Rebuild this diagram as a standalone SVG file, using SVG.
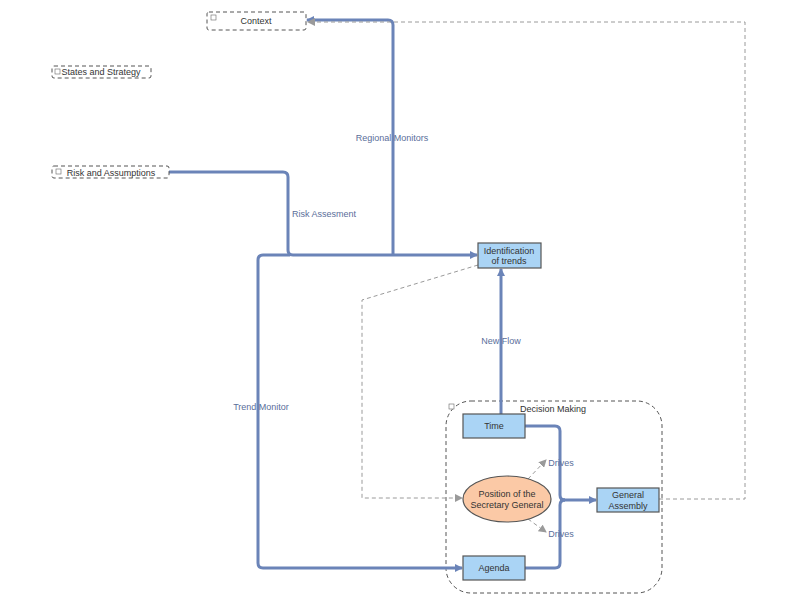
<svg xmlns="http://www.w3.org/2000/svg" width="800" height="600" viewBox="0 0 800 600">
<defs>
<marker id="a" markerWidth="8" markerHeight="8" refX="7" refY="4" orient="auto" markerUnits="userSpaceOnUse"><path d="M0,0 L8,4 L0,8 Z" fill="#6b84b8"/></marker>
<marker id="g" markerWidth="8" markerHeight="8" refX="7" refY="4" orient="auto" markerUnits="userSpaceOnUse"><path d="M0,0 L8,4 L0,8 Z" fill="#9a9a9a"/></marker>
<style>
text{font-family:"Liberation Sans",sans-serif;font-size:9px;fill:#333}
.lbl{fill:#5a6e9a}
.box{fill:#aad4f5;stroke:#555;stroke-width:1.2}
.grp{fill:#fff;stroke:#555;stroke-dasharray:4,3}
.c{fill:none;stroke:#6b84b8;stroke-width:3;marker-end:url(#a)}
.cn{fill:none;stroke:#6b84b8;stroke-width:3}
.d{fill:none;stroke:#9a9a9a;stroke-width:1;stroke-dasharray:4,3;marker-end:url(#g)}
.pl{fill:#fff;stroke:#666;stroke-width:0.6}
</style>
</defs>
<rect width="800" height="600" fill="#fff"/>
<g id="decision-making"><rect class="grp" x="446" y="401" width="216" height="192" rx="25"/><text x="553" y="412" text-anchor="middle">Decision Making</text><rect class="pl" x="449" y="404" width="5" height="5"/></g>
<g id="connectors">
<path class="c" d="M169,172 H283 Q288,172 288,177 V250 Q288,255 293,255 H477"/>
<path class="c" d="M393,255 V25 Q393,20 388,20 H307"/>
<path class="c" d="M290,255 H263 Q258,255 258,260 V563 Q258,568 263,568 H462"/>
<path class="c" d="M501,414 V269"/>
<path class="cn" d="M525,426 H555 Q560,426 560,431 V495 Q560,500 565,500"/>
<path class="cn" d="M525,568 H555 Q560,568 560,563 V505 Q560,500 565,500"/>
<path class="c" d="M560,500 H596"/>
<path class="d" d="M478,265 L362,300 V498 H462"/>
<path class="d" d="M659,499 H745 V22 H308"/>
<path class="d" d="M528,479 L546,460"/>
<path class="d" d="M528,519 L546,532"/>
<text class="lbl" x="392" y="141" text-anchor="middle">Regional Monitors</text>
<text class="lbl" x="324" y="217" text-anchor="middle">Risk Assesment</text>
<text class="lbl" x="261" y="410" text-anchor="middle">Trend Monitor</text>
<text class="lbl" x="501" y="344" text-anchor="middle">New Flow</text>
<text class="lbl" x="561" y="466" text-anchor="middle">Drives</text>
<text class="lbl" x="561" y="537" text-anchor="middle">Drives</text>
</g>
<g id="context"><rect class="grp" x="207" y="12" width="99" height="18" rx="2"/><rect class="pl" x="211" y="15" width="5" height="5"/><text x="256" y="24" text-anchor="middle">Context</text></g>
<g id="states"><rect class="grp" x="52" y="66" width="99" height="12" rx="2"/><rect class="pl" x="55" y="69" width="5" height="5"/><text x="101" y="75" text-anchor="middle">States and Strategy</text></g>
<g id="risk"><rect class="grp" x="52" y="166" width="117" height="12" rx="2"/><rect class="pl" x="56" y="169" width="5" height="5"/><text x="111" y="176" text-anchor="middle">Risk and Assumptions</text></g>
<g id="identification"><rect class="box" x="478" y="243" width="63" height="25"/><text x="509" y="254" text-anchor="middle">Identification</text><text x="509" y="264" text-anchor="middle">of trends</text></g>
<g id="time"><rect class="box" x="463" y="414" width="62" height="24"/><text x="494" y="429" text-anchor="middle">Time</text></g>
<g id="agenda"><rect class="box" x="463" y="556" width="62" height="24"/><text x="494" y="571" text-anchor="middle">Agenda</text></g>
<g id="general-assembly"><rect class="box" x="597" y="488" width="62" height="24"/><text x="628" y="498" text-anchor="middle">General</text><text x="628" y="509" text-anchor="middle">Assembly</text></g>
<g id="position"><ellipse cx="507" cy="499" rx="44" ry="23" fill="#fbc9a6" stroke="#555" stroke-width="1.2"/><text x="507" y="497" text-anchor="middle">Position of the</text><text x="507" y="508" text-anchor="middle">Secretary General</text></g>
</svg>
